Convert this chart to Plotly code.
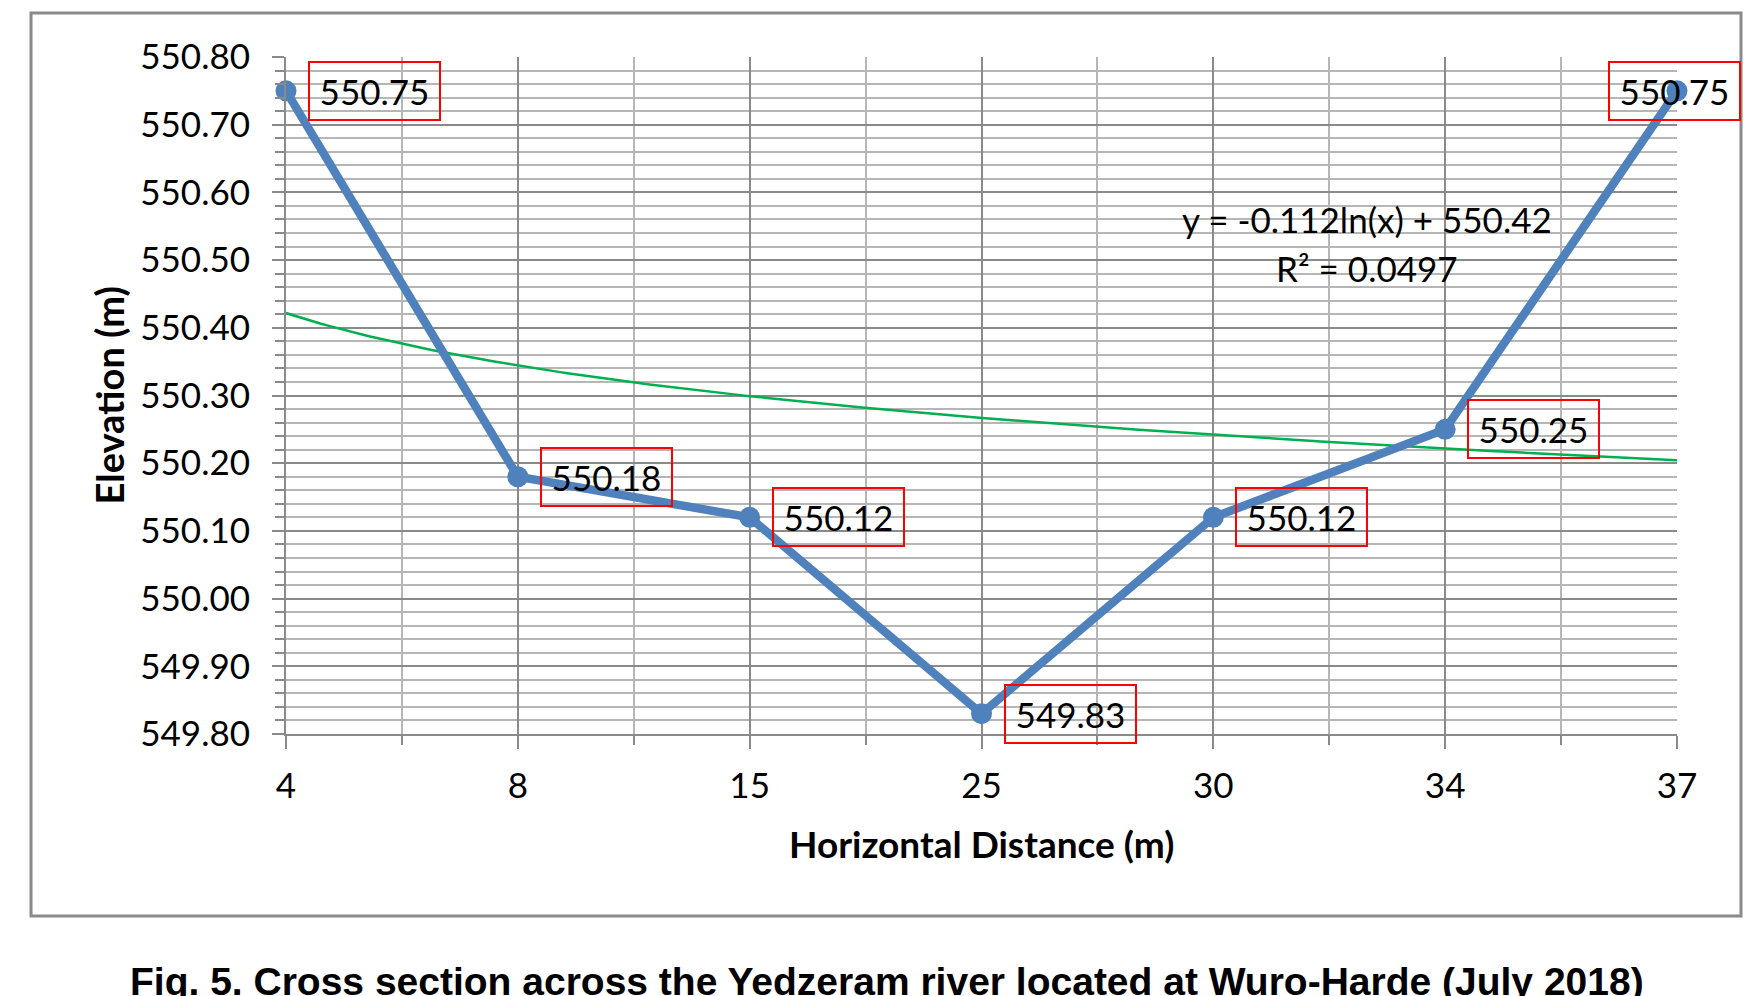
import numpy as np
import plotly.graph_objects as go

# ---- data ----
distances = ["4", "8", "15", "25", "30", "34", "37"]
elevations = [550.75, 550.18, 550.12, 549.83, 550.12, 550.25, 550.75]
positions = [1, 2, 3, 4, 5, 6, 7]
eq_text = "y = -0.112ln(x) + 550.42"
r2_text = "R² = 0.0497"
caption = "Fig. 5. Cross section across the Yedzeram river located at Wuro-Harde (July 2018)"
x_title = "Horizontal Distance (m)"
y_title = "Elevation (m)"

# log trendline fit (Excel style, x = 1..n)
coef = np.polyfit(np.log(positions), elevations, 1)
tx = np.linspace(1, 7, 200)
ty = coef[0] * np.log(tx) + coef[1]

W, H = 1746, 996
L, R, T, B = 286, 1677, 57, 734
pw, ph = R - L, B - T


def px(x):
    return (x - L) / pw


def py(y):
    return (B - y) / ph


FONT = "Lato"
FS = 35
MAJ = "#8a8a8a"
MIN = "#b6b6b6"

fig = go.Figure()
fig.add_trace(go.Scatter(x=tx, y=ty, mode="lines",
                         line=dict(color="#00b050", width=2.5),
                         hoverinfo="skip", showlegend=False))
fig.add_trace(go.Scatter(x=positions, y=elevations, mode="lines+markers",
                         line=dict(color="#4f81bd", width=8.5),
                         marker=dict(color="#4f81bd", size=21),
                         showlegend=False, cliponaxis=False))

# data labels
for i, (p, v) in enumerate(zip(positions, elevations)):
    shift = -69 if i == len(positions) - 1 else 22
    fig.add_annotation(x=p, y=v, xref="x", yref="y", text=f"{v:.2f}",
                       showarrow=False, xanchor="left", yanchor="middle",
                       xshift=shift, width=127, height=54, borderpad=1,
                       bordercolor="#ff0000", borderwidth=2,
                       font=dict(family=FONT, size=FS, color="black"))

# equation
fig.add_annotation(x=px(1367), y=py(219), xref="paper", yref="paper",
                   text=eq_text, showarrow=False, xanchor="center", yanchor="middle",
                   font=dict(family=FONT, size=FS, color="black"))
fig.add_annotation(x=px(1367), y=py(268), xref="paper", yref="paper",
                   text=r2_text, showarrow=False, xanchor="center", yanchor="middle",
                   font=dict(family=FONT, size=FS, color="black"))

# axis titles
fig.add_annotation(x=px(108), y=0.5, xref="paper", yref="paper", text=f"<b>{y_title}</b>",
                   textangle=-90, showarrow=False, xanchor="center", yanchor="middle",
                   font=dict(family=FONT, size=38, color="black"))
fig.add_annotation(x=px(981), y=py(843), xref="paper", yref="paper", text=f"<b>{x_title}</b>",
                   showarrow=False, xanchor="center", yanchor="middle",
                   font=dict(family=FONT, size=37, color="black"))
# caption
fig.add_annotation(x=px(887), y=py(982), xref="paper", yref="paper", text=f"<b>{caption}</b>",
                   showarrow=False, xanchor="center", yanchor="middle",
                   font=dict(family="Liberation Sans", size=39, color="black"))

# outer frame
fig.add_shape(type="rect", xref="paper", yref="paper",
              x0=px(31), x1=px(1741), y0=py(916), y1=py(13),
              line=dict(color="#8a8a8a", width=3), layer="below")

fig.update_xaxes(range=[1, 7], tickmode="array", tickvals=positions, ticktext=distances,
                 showgrid=True, gridcolor=MAJ, gridwidth=2,
                 ticks="outside", ticklen=13, tickwidth=2, tickcolor=MAJ,
                 showline=True, linecolor=MAJ, linewidth=2, zeroline=False,
                 ticklabelstandoff=7,
                 tickfont=dict(family=FONT, size=FS, color="black"),
                 minor=dict(tickmode="linear", tick0=1, dtick=0.5, showgrid=True,
                            gridcolor=MIN, gridwidth=2, ticks="outside", ticklen=9,
                            tickwidth=2, tickcolor=MAJ))
fig.update_yaxes(range=[549.80, 550.80], tickmode="linear", tick0=549.8, dtick=0.1,
                 tickformat=".2f", showgrid=True, gridcolor=MAJ, gridwidth=2,
                 ticks="outside", ticklen=12, tickwidth=2, tickcolor=MAJ,
                 showline=True, linecolor=MAJ, linewidth=2, zeroline=False,
                 ticklabelstandoff=15,
                 tickfont=dict(family=FONT, size=FS, color="black"),
                 minor=dict(tickmode="linear", tick0=549.8, dtick=0.02, showgrid=True,
                            gridcolor=MIN, gridwidth=2, ticks="outside", ticklen=9,
                            tickwidth=2, tickcolor=MAJ))

fig.update_layout(width=W, height=H, margin=dict(l=L, r=W - R, t=T, b=H - B),
                  plot_bgcolor="white", paper_bgcolor="white", showlegend=False)

fig.write_html("out.html")
